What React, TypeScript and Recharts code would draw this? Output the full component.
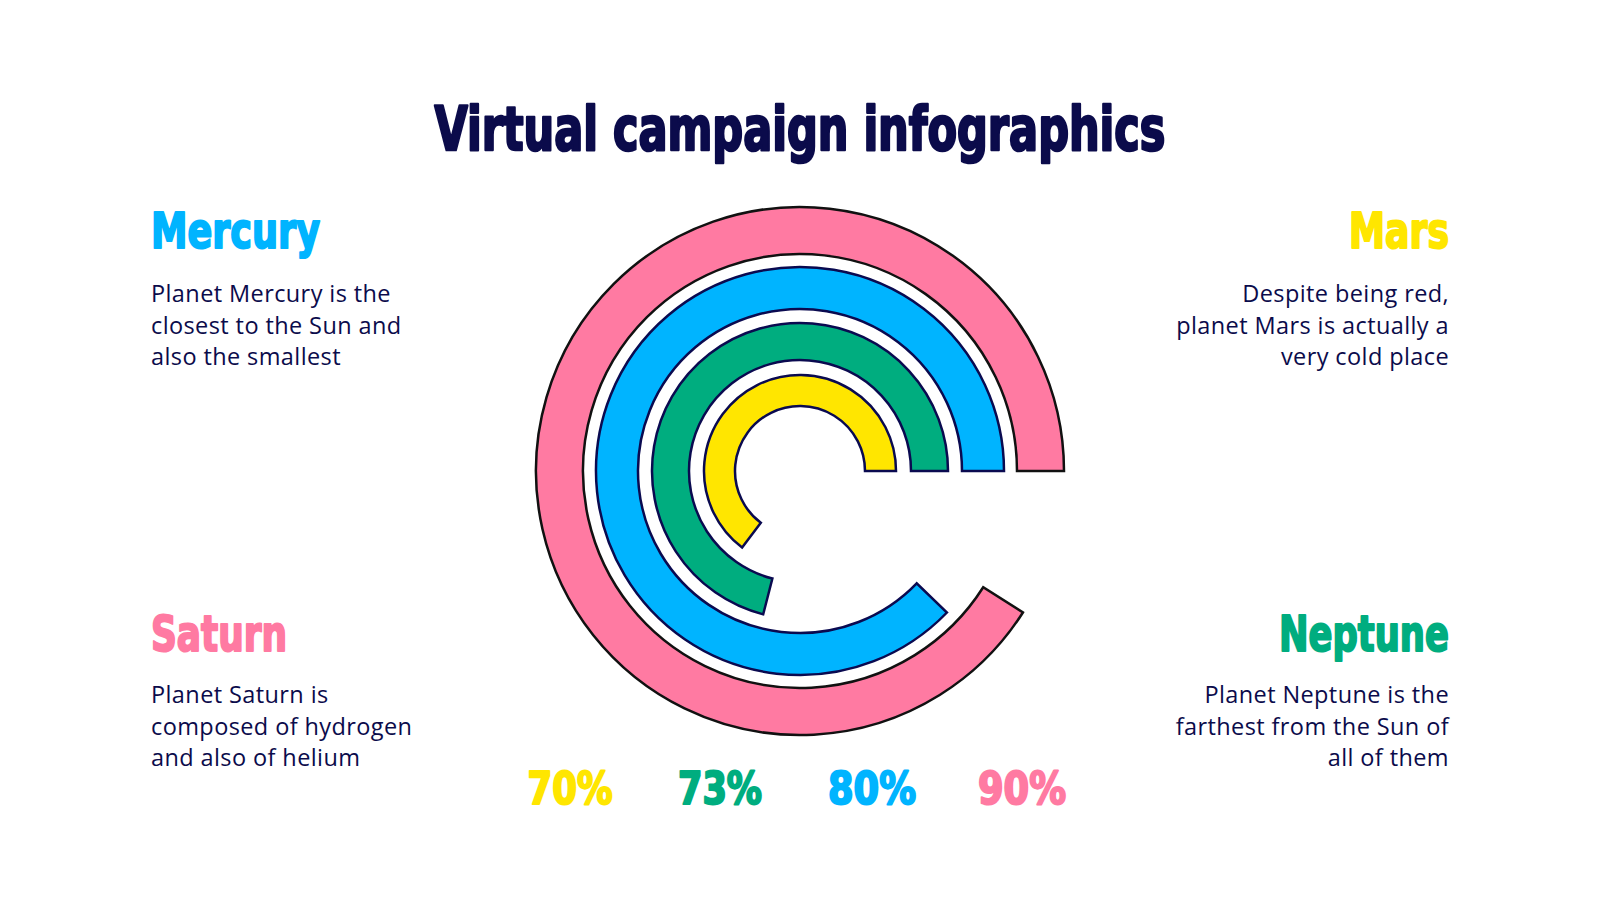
import React from 'react';
import { PieChart, Pie, Cell } from 'recharts';

// ---- data ----
const ringNames = ['Mars', 'Neptune', 'Mercury', 'Saturn'];
const ringLabels = ['70%', '73%', '80%', '90%'];
// sweep of each drawn arc, as % of the full circle
const ringArcs = [64.7, 71.0, 87.8, 91.0];
const ringColors = ['#ffe600', '#00ad7f', '#00b4ff', '#ff7aa2'];
const ringStrokes = ['#0a0a50', '#0a0a50', '#0a0a50', '#111111'];
const ringRadii = [
  [65, 96],
  [111, 148],
  [162, 204],
  [217, 264],
];

const NAVY = '#0b0b4b';
const W = 1600;
const H = 900;
const CX = 800;
const CY = 471;

const headFont = '"Liberation Sans Narrow", "DejaVu Sans Condensed", "Arial Narrow", sans-serif';
const bodyFont = '"Open Sans", Lato, sans-serif';

const blocks = [
  { title: 'Mercury', color: '#00b4ff', x: 151, anchor: 'start', titleY: 248, titleW: 169, lines: ['Planet Mercury is the', 'closest to the Sun and', 'also the smallest'], y0: 302 },
  { title: 'Mars', color: '#ffe600', x: 1449, anchor: 'end', titleY: 248, titleW: 100, lines: ['Despite being red,', 'planet Mars is actually a', 'very cold place'], y0: 302 },
  { title: 'Saturn', color: '#ff7aa2', x: 151, anchor: 'start', titleY: 651, titleW: 136, lines: ['Planet Saturn is', 'composed of hydrogen', 'and also of helium'], y0: 703 },
  { title: 'Neptune', color: '#00ad7f', x: 1449, anchor: 'end', titleY: 651, titleW: 170, lines: ['Planet Neptune is the', 'farthest from the Sun of', 'all of them'], y0: 703 },
];

const labelCenters = [570, 720, 872, 1022];
const labelWidths = [85, 84, 88, 88];

export default function App() {
  return (
    <div style={{ position: 'absolute', left: 0, top: 0, width: W, height: H, background: '#ffffff' }}>
      <PieChart width={W} height={H} margin={{ top: 0, right: 0, bottom: 0, left: 0 }}>
        {ringArcs.map((arc, i) => {
          const data = [
            { name: ringNames[i], value: arc },
            { name: 'rest', value: 100 - arc },
          ];
          return (
            <Pie
              key={ringNames[i]}
              data={data}
              dataKey="value"
              cx={CX}
              cy={CY}
              innerRadius={ringRadii[i][0]}
              outerRadius={ringRadii[i][1]}
              startAngle={0}
              endAngle={360}
              paddingAngle={0}
              isAnimationActive={false}
              legendType="none"
            >
              <Cell fill={ringColors[i]} stroke={ringStrokes[i]} strokeWidth={2.5} />
              <Cell fill="none" stroke="none" />
            </Pie>
          );
        })}
      </PieChart>
      <svg width={W} height={H} style={{ position: 'absolute', left: 0, top: 0, pointerEvents: 'none' }}>
        <text
          x={CX}
          y={150}
          textAnchor="middle"
          fontFamily={headFont}
          fontWeight={700}
          fontSize={61}
          fill={NAVY}
          stroke={NAVY}
          strokeWidth={2.5}
          strokeLinejoin="round"
          textLength={731}
          lengthAdjust="spacingAndGlyphs"
        >
          Virtual campaign infographics
        </text>
        {blocks.map((b) => (
          <g key={b.title}>
            <text
              x={b.x}
              y={b.titleY}
              textAnchor={b.anchor as any}
              fontFamily={headFont}
              fontWeight={700}
              fontSize={50}
              fill={b.color}
              stroke={b.color}
              strokeWidth={2}
              strokeLinejoin="round"
              textLength={b.titleW}
              lengthAdjust="spacingAndGlyphs"
            >
              {b.title}
            </text>
            {b.lines.map((ln, j) => (
              <text
                key={j}
                x={b.x}
                y={b.y0 + j * 31.6}
                textAnchor={b.anchor as any}
                fontFamily={bodyFont}
                fontSize={23.5}
                letterSpacing={0.4}
                fill={NAVY}
              >
                {ln}
              </text>
            ))}
          </g>
        ))}
        {ringLabels.map((lab, i) => (
          <text
            key={lab}
            x={labelCenters[i]}
            y={804}
            textAnchor="middle"
            fontFamily={headFont}
            fontWeight={700}
            fontSize={44}
            fill={ringColors[i]}
            stroke={ringColors[i]}
            strokeWidth={2}
            strokeLinejoin="round"
            textLength={labelWidths[i]}
            lengthAdjust="spacingAndGlyphs"
          >
            {lab}
          </text>
        ))}
      </svg>
    </div>
  );
}
